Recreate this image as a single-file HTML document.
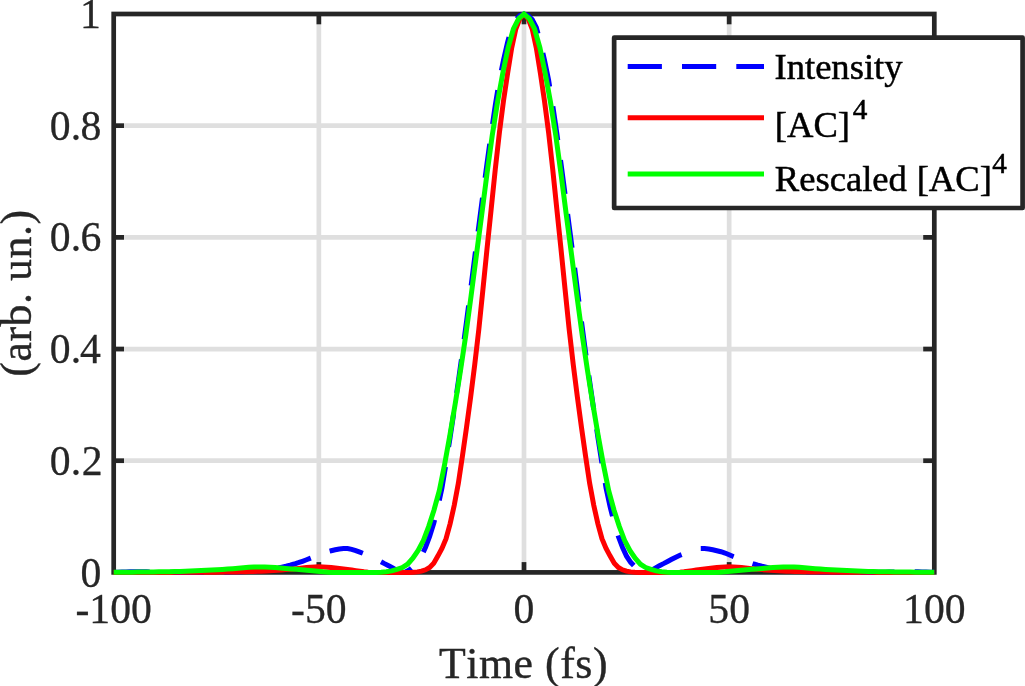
<!DOCTYPE html>
<html lang="en"><head><meta charset="utf-8"><title>Intensity and autocorrelation</title>
<style>html,body{margin:0;padding:0;background:#fff;overflow:hidden}svg{display:block}text{font-family:"Liberation Serif","Times New Roman",Times,serif;font-kerning:none}</style></head><body>
<svg width="1025" height="686" viewBox="0 0 1025 686">
<rect width="1025" height="686" fill="#fff"/>
<g stroke="#dfdfdf" stroke-width="4.7" fill="none"><line x1="318.85" y1="14.0" x2="318.85" y2="572.4"/><line x1="524.00" y1="14.0" x2="524.00" y2="572.4"/><line x1="729.15" y1="14.0" x2="729.15" y2="572.4"/><line x1="113.7" y1="460.72" x2="934.3" y2="460.72"/><line x1="113.7" y1="349.04" x2="934.3" y2="349.04"/><line x1="113.7" y1="237.36" x2="934.3" y2="237.36"/><line x1="113.7" y1="125.68" x2="934.3" y2="125.68"/></g>
<g stroke="#262626" stroke-width="4.7" fill="none"><line x1="318.85" y1="572.4" x2="318.85" y2="562.1"/><line x1="318.85" y1="14.0" x2="318.85" y2="24.3"/><line x1="524.00" y1="572.4" x2="524.00" y2="562.1"/><line x1="524.00" y1="14.0" x2="524.00" y2="24.3"/><line x1="729.15" y1="572.4" x2="729.15" y2="562.1"/><line x1="729.15" y1="14.0" x2="729.15" y2="24.3"/><line x1="113.7" y1="460.72" x2="124.0" y2="460.72"/><line x1="934.3" y1="460.72" x2="923.20" y2="460.72"/><line x1="113.7" y1="349.04" x2="124.0" y2="349.04"/><line x1="934.3" y1="349.04" x2="923.20" y2="349.04"/><line x1="113.7" y1="237.36" x2="124.0" y2="237.36"/><line x1="934.3" y1="237.36" x2="923.20" y2="237.36"/><line x1="113.7" y1="125.68" x2="124.0" y2="125.68"/><line x1="934.3" y1="125.68" x2="923.20" y2="125.68"/>
<rect x="113.7" y="14.0" width="820.60" height="558.40"/></g>
<g fill="none" stroke-width="5.0" stroke-linejoin="miter" stroke-linecap="butt">
<path stroke="#0000ff" stroke-dasharray="34.2 20.1" stroke-dashoffset="-1.8" d="M113.70,572.23 L117.80,572.15 L121.91,572.06 L126.01,571.95 L130.11,571.82 L134.22,571.72 L138.32,571.67 L142.42,571.72 L146.52,571.84 L150.63,571.97 L154.73,572.06 L158.83,572.12 L162.94,572.18 L167.04,572.22 L171.14,572.23 L175.25,572.23 L179.35,572.23 L183.45,572.22 L187.55,572.22 L191.66,572.21 L195.76,572.20 L199.86,572.19 L203.97,572.18 L208.07,572.16 L212.17,572.13 L216.27,572.08 L220.38,572.03 L224.48,571.97 L228.58,571.91 L232.69,571.84 L236.79,571.76 L240.89,571.67 L245.00,571.54 L249.10,571.39 L253.20,571.19 L257.30,570.92 L261.41,570.57 L265.51,570.17 L269.61,569.62 L273.72,568.90 L277.82,568.08 L281.92,567.21 L286.03,566.25 L290.13,565.19 L294.23,564.02 L298.33,562.72 L302.44,561.27 L306.54,559.73 L310.64,558.16 L314.75,556.56 L318.85,554.77 L322.95,553.06 L327.06,551.74 L331.16,550.72 L335.26,549.76 L339.37,549.00 L343.47,548.56 L347.57,548.60 L351.67,549.34 L355.78,550.59 L359.88,552.11 L363.98,553.68 L368.09,555.26 L372.19,557.16 L376.29,559.26 L380.39,561.45 L384.50,563.64 L388.60,565.70 L392.70,568.03 L396.81,570.48 L400.91,572.15 L405.01,572.11 L409.12,570.05 L413.22,566.57 L417.32,562.35 L421.42,556.20 L425.53,547.22 L429.63,536.49 L433.73,523.40 L437.84,507.00 L441.94,487.93 L446.04,463.30 L450.15,437.07 L454.25,409.69 L458.35,381.29 L462.45,352.01 L466.56,321.38 L470.66,289.29 L474.76,256.97 L478.87,225.47 L482.97,194.02 L487.07,163.02 L491.18,133.35 L495.28,105.43 L499.38,80.30 L503.48,60.19 L507.59,42.38 L511.69,27.34 L515.79,19.63 L519.90,15.74 L524.00,14.00 L528.10,15.74 L532.21,19.63 L536.31,27.34 L540.41,42.38 L544.51,60.19 L548.62,80.30 L552.72,105.43 L556.82,133.35 L560.93,163.02 L565.03,194.02 L569.13,225.47 L573.24,256.97 L577.34,289.29 L581.44,321.38 L585.54,352.01 L589.65,381.29 L593.75,409.69 L597.85,437.07 L601.96,463.30 L606.06,487.93 L610.16,507.00 L614.27,523.40 L618.37,536.49 L622.47,547.22 L626.58,556.20 L630.68,562.35 L634.78,566.57 L638.88,570.05 L642.99,572.11 L647.09,572.15 L651.19,570.48 L655.30,568.03 L659.40,565.70 L663.50,563.64 L667.61,561.45 L671.71,559.26 L675.81,557.16 L679.91,555.26 L684.02,553.68 L688.12,552.11 L692.22,550.59 L696.33,549.34 L700.43,548.60 L704.53,548.56 L708.63,549.00 L712.74,549.76 L716.84,550.72 L720.94,551.74 L725.05,553.06 L729.15,554.77 L733.25,556.56 L737.36,558.16 L741.46,559.73 L745.56,561.27 L749.66,562.72 L753.77,564.02 L757.87,565.19 L761.97,566.25 L766.08,567.21 L770.18,568.08 L774.28,568.90 L778.39,569.62 L782.49,570.17 L786.59,570.57 L790.69,570.92 L794.80,571.19 L798.90,571.39 L803.00,571.54 L807.11,571.67 L811.21,571.76 L815.31,571.84 L819.42,571.91 L823.52,571.97 L827.62,572.03 L831.72,572.08 L835.83,572.13 L839.93,572.16 L844.03,572.18 L848.14,572.19 L852.24,572.20 L856.34,572.21 L860.45,572.22 L864.55,572.22 L868.65,572.23 L872.75,572.23 L876.86,572.23 L880.96,572.22 L885.06,572.18 L889.17,572.12 L893.27,572.06 L897.37,571.97 L901.48,571.84 L905.58,571.72 L909.68,571.67 L913.78,571.72 L917.89,571.82 L921.99,571.95 L926.09,572.06 L930.20,572.15 L934.30,572.23"/>
<path stroke="#ff0000" stroke-miterlimit="1.3" d="M113.70,572.40 L117.80,572.40 L121.91,572.40 L126.01,572.40 L130.11,572.40 L134.22,572.40 L138.32,572.40 L142.42,572.40 L146.52,572.40 L150.63,572.40 L154.73,572.40 L158.83,572.40 L162.94,572.39 L167.04,572.39 L171.14,572.38 L175.25,572.36 L179.35,572.35 L183.45,572.33 L187.55,572.31 L191.66,572.30 L195.76,572.27 L199.86,572.25 L203.97,572.23 L208.07,572.21 L212.17,572.18 L216.27,572.14 L220.38,572.10 L224.48,572.06 L228.58,572.01 L232.69,571.95 L236.79,571.89 L240.89,571.80 L245.00,571.70 L249.10,571.59 L253.20,571.46 L257.30,571.32 L261.41,571.14 L265.51,570.92 L269.61,570.69 L273.72,570.45 L277.82,570.19 L281.92,569.92 L286.03,569.63 L290.13,569.33 L294.23,568.95 L298.33,568.49 L302.44,568.00 L306.54,567.53 L310.64,567.14 L314.75,566.89 L318.85,566.82 L322.95,566.94 L327.06,567.22 L331.16,567.60 L335.26,568.06 L339.37,568.55 L343.47,569.04 L347.57,569.50 L351.67,570.00 L355.78,570.62 L359.88,571.27 L363.98,571.83 L368.09,572.24 L372.19,572.40 L376.29,572.40 L380.39,572.40 L384.50,572.40 L388.60,572.40 L392.70,572.40 L396.81,572.40 L400.91,572.40 L405.01,572.40 L409.12,572.40 L413.22,572.33 L417.32,571.87 L421.42,571.16 L425.53,569.82 L429.63,567.48 L433.73,563.24 L437.84,556.11 L441.94,548.42 L446.04,538.69 L450.15,523.54 L454.25,505.30 L458.35,483.26 L462.45,455.94 L466.56,427.14 L470.66,396.81 L474.76,364.42 L478.87,328.94 L482.97,289.09 L487.07,248.37 L491.18,208.91 L495.28,169.30 L499.38,132.67 L503.48,101.05 L507.59,73.38 L511.69,47.94 L515.79,29.02 L519.90,18.70 L524.00,14.00 L528.10,18.70 L532.21,29.02 L536.31,47.94 L540.41,73.38 L544.51,101.05 L548.62,132.67 L552.72,169.30 L556.82,208.91 L560.93,248.37 L565.03,289.09 L569.13,328.94 L573.24,364.42 L577.34,396.81 L581.44,427.14 L585.54,455.94 L589.65,483.26 L593.75,505.30 L597.85,523.54 L601.96,538.69 L606.06,548.42 L610.16,556.11 L614.27,563.24 L618.37,567.48 L622.47,569.82 L626.58,571.16 L630.68,571.87 L634.78,572.33 L638.88,572.40 L642.99,572.40 L647.09,572.40 L651.19,572.40 L655.30,572.40 L659.40,572.40 L663.50,572.40 L667.61,572.40 L671.71,572.40 L675.81,572.40 L679.91,572.24 L684.02,571.83 L688.12,571.27 L692.22,570.62 L696.33,570.00 L700.43,569.50 L704.53,569.04 L708.63,568.55 L712.74,568.06 L716.84,567.60 L720.94,567.22 L725.05,566.94 L729.15,566.82 L733.25,566.89 L737.36,567.14 L741.46,567.53 L745.56,568.00 L749.66,568.49 L753.77,568.95 L757.87,569.33 L761.97,569.63 L766.08,569.92 L770.18,570.19 L774.28,570.45 L778.39,570.69 L782.49,570.92 L786.59,571.14 L790.69,571.32 L794.80,571.46 L798.90,571.59 L803.00,571.70 L807.11,571.80 L811.21,571.89 L815.31,571.95 L819.42,572.01 L823.52,572.06 L827.62,572.10 L831.72,572.14 L835.83,572.18 L839.93,572.21 L844.03,572.23 L848.14,572.25 L852.24,572.27 L856.34,572.30 L860.45,572.31 L864.55,572.33 L868.65,572.35 L872.75,572.36 L876.86,572.38 L880.96,572.39 L885.06,572.39 L889.17,572.40 L893.27,572.40 L897.37,572.40 L901.48,572.40 L905.58,572.40 L909.68,572.40 L913.78,572.40 L917.89,572.40 L921.99,572.40 L926.09,572.40 L930.20,572.40 L934.30,572.40"/>
<path stroke="#00ff00" d="M113.70,572.23 L116.45,572.23 L121.74,572.21 L127.03,572.18 L132.33,572.14 L137.62,572.09 L142.91,572.04 L148.21,571.98 L153.50,571.92 L158.79,571.84 L164.08,571.75 L169.38,571.65 L174.67,571.53 L179.96,571.40 L185.26,571.24 L190.55,571.04 L195.84,570.82 L201.13,570.58 L206.43,570.33 L211.72,570.06 L217.01,569.77 L222.31,569.46 L227.60,569.11 L232.89,568.65 L238.19,568.14 L243.48,567.64 L248.77,567.22 L254.06,566.94 L259.36,566.88 L264.65,566.99 L269.94,567.24 L275.24,567.59 L280.53,568.01 L285.82,568.47 L291.11,568.93 L296.41,569.35 L301.70,569.76 L306.99,570.26 L312.29,570.81 L317.58,571.36 L322.87,571.84 L328.16,572.20 L333.46,572.39 L338.75,572.40 L344.04,572.40 L349.34,572.40 L354.63,572.40 L359.92,572.40 L365.21,572.40 L370.51,572.40 L375.80,572.40 L381.09,572.22 L386.39,571.75 L391.68,570.85 L396.97,569.44 L402.26,567.54 L407.56,564.24 L412.85,558.26 L418.14,550.50 L423.44,540.29 L428.73,526.39 L434.02,510.02 L439.31,490.66 L444.61,464.49 L449.90,435.17 L455.19,403.90 L460.49,370.66 L465.78,335.18 L471.07,296.02 L476.36,255.35 L481.66,215.16 L486.95,174.04 L492.24,135.44 L497.54,102.04 L502.83,73.04 L508.12,47.49 L513.41,28.96 L518.71,18.67 L524.00,14.00 L529.29,18.67 L534.59,28.96 L539.88,47.49 L545.17,73.04 L550.46,102.04 L555.76,135.44 L561.05,174.04 L566.34,215.16 L571.64,255.35 L576.93,296.02 L582.22,335.18 L587.51,370.66 L592.81,403.90 L598.10,435.17 L603.39,464.49 L608.69,490.66 L613.98,510.02 L619.27,526.39 L624.56,540.29 L629.86,550.50 L635.15,558.26 L640.44,564.24 L645.74,567.54 L651.03,569.44 L656.32,570.85 L661.61,571.75 L666.91,572.22 L672.20,572.40 L677.49,572.40 L682.79,572.40 L688.08,572.40 L693.37,572.40 L698.66,572.40 L703.96,572.40 L709.25,572.40 L714.54,572.39 L719.84,572.20 L725.13,571.84 L730.42,571.36 L735.71,570.81 L741.01,570.26 L746.30,569.76 L751.59,569.35 L756.89,568.93 L762.18,568.47 L767.47,568.01 L772.76,567.59 L778.06,567.24 L783.35,566.99 L788.64,566.88 L793.94,566.94 L799.23,567.22 L804.52,567.64 L809.81,568.14 L815.11,568.65 L820.40,569.11 L825.69,569.46 L830.99,569.77 L836.28,570.06 L841.57,570.33 L846.87,570.58 L852.16,570.82 L857.45,571.04 L862.74,571.24 L868.04,571.40 L873.33,571.53 L878.62,571.65 L883.92,571.75 L889.21,571.84 L894.50,571.92 L899.79,571.98 L905.09,572.04 L910.38,572.09 L915.67,572.14 L920.97,572.18 L926.26,572.21 L931.55,572.23 L934.30,572.23"/>
</g>
<g fill="#262626" stroke="#262626" stroke-width="0.3" font-size="41.7px">
<text x="101.4" y="586.50" text-anchor="end">0</text>
<text x="49.8" y="474.82">0.<tspan x="81.75">2</tspan></text>
<text x="49.8" y="363.14">0.<tspan x="79.95">4</tspan></text>
<text x="49.8" y="251.46">0.<tspan x="80.45">6</tspan></text>
<text x="49.8" y="139.78">0.<tspan x="80.45">8</tspan></text>
<text x="100.9" y="28.10" text-anchor="end">1</text>
<text x="113.70" y="622.7" text-anchor="middle">-100</text>
<text x="318.85" y="622.7" text-anchor="middle">-50</text>
<text x="524.00" y="622.7" text-anchor="middle">0</text>
<text x="729.15" y="622.7" text-anchor="middle">50</text>
<text x="934.30" y="622.7" text-anchor="middle">100</text>
</g>
<g fill="#262626" stroke="#262626" stroke-width="0.4" font-size="43.8px" letter-spacing="0.56">
<text x="523.5" y="677.8" text-anchor="middle">Time (fs)</text>
<text transform="translate(30.8 293.0) rotate(-90)" text-anchor="middle">(arb. un.)</text>
</g>
<rect x="614.15" y="37.7" width="408.45" height="170.30" fill="#fff" stroke="#262626" stroke-width="4.7" stroke-linejoin="round"/>
<g fill="none" stroke-width="5.0">
<line x1="627.7" y1="66.6" x2="764" y2="66.6" stroke="#0000ff" stroke-dasharray="34.2 20.1"/>
<line x1="627.7" y1="117.8" x2="764" y2="117.8" stroke="#ff0000"/>
<line x1="627.7" y1="173.9" x2="764" y2="173.9" stroke="#00ff00"/>
</g>
<g fill="#000" stroke="#000" stroke-width="0.5" font-size="36.6px">
<text x="774.5" y="78.9">Intensity</text>
<text x="774.8" y="136.7">[AC]<tspan font-size="29.2px" dy="-17.3" dx="2.7">4</tspan></text>
<text x="774.8" y="190.5">Rescaled <tspan dx="0.7">[AC]</tspan><tspan font-size="29.2px" dy="-17.3" dx="0.3">4</tspan></text>
</g>
</svg></body></html>
